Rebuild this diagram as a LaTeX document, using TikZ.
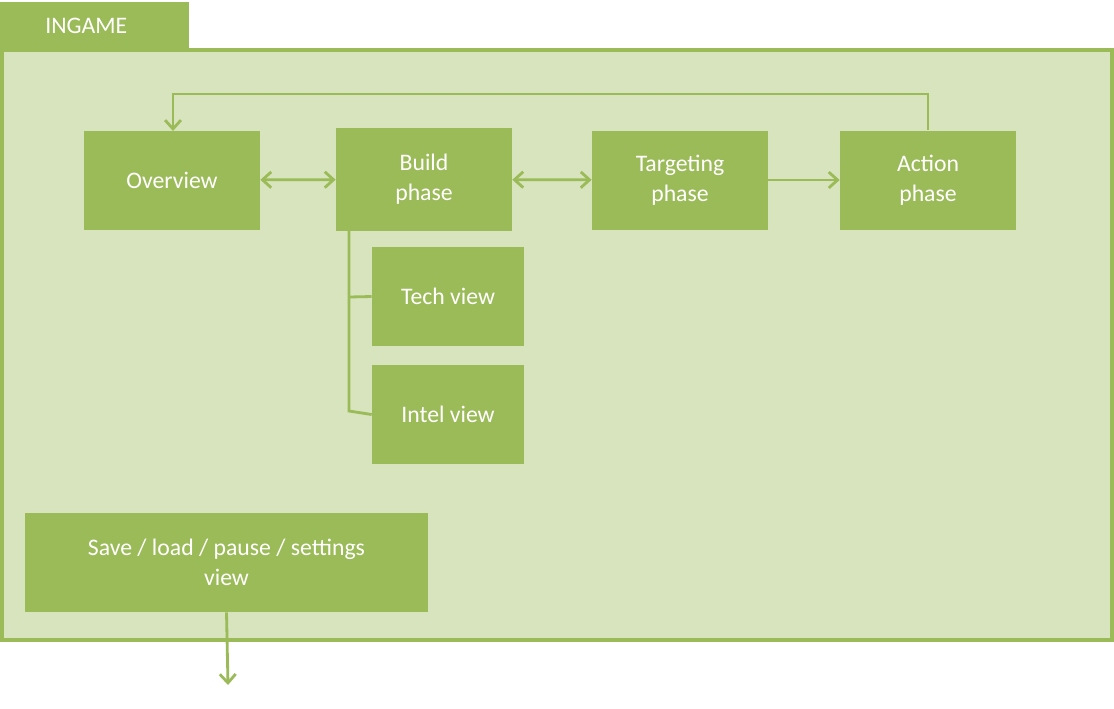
\documentclass[tikz,border=0pt]{standalone}
\usepackage{fontspec}
\setmainfont{Carlito}
\usetikzlibrary{arrows.meta}
\definecolor{boxgreen}{HTML}{9BBB59}
\definecolor{panelgreen}{HTML}{D7E4BD}
\tikzset{
  box/.style={fill=boxgreen, text=white, align=center, inner sep=0pt,
    font=\fontsize{13.5}{17}\selectfont},
  link/.style={boxgreen, line width=1.6pt},
  tip/.style={-{Straight Barb[length=5pt,width=9pt]}}
}
\begin{document}
\begin{tikzpicture}[x=0.02cm, y=-0.02cm]

    \useasboundingbox (0,0) rectangle (1114,708);

    \draw[boxgreen, fill=boxgreen] (0,2) rectangle (188,50);
    \node[box, anchor=west] (tab) at (45,26) {INGAME};
    \draw[boxgreen, fill=panelgreen, line width=2pt] (2,50) rectangle (1112,640);

    \node[box, minimum width=3.52cm, minimum height=1.98cm] (overview) at (172,180) {Overview};
    \node[box, minimum width=3.52cm, minimum height=2.06cm] (build) at (424,179.5) {Build\\phase};
    \node[box, minimum width=3.52cm, minimum height=1.98cm] (target) at (680,180) {Targeting\\phase};
    \node[box, minimum width=3.52cm, minimum height=1.98cm] (action) at (928,180) {Action\\phase};
    \node[box, minimum width=3.04cm, minimum height=1.98cm] (tech) at (448,296.5) {Tech view};
    \node[box, minimum width=3.04cm, minimum height=1.98cm] (intel) at (448,414.5) {Intel view};
    \node[box, minimum width=8.06cm, minimum height=1.98cm] (save) at (226.5,562.5) {Save / load / pause / settings\\view};
    \coordinate (exit) at (228,685);

    \draw[link, {Straight Barb[length=5pt,width=9pt]}-{Straight Barb[length=5pt,width=9pt]}] (overview) -- (build);
    \draw[link, {Straight Barb[length=5pt,width=9pt]}-{Straight Barb[length=5pt,width=9pt]}] (build) -- (target);
    \draw[link, tip] (target) -- (action);
    \draw[link, tip] (action.north) -- (928,94) -- (173,94) -- (173,131);
    \draw[link] (349,231) -- (349,411) -- (intel.west);
    \draw[link] (349,297) -- (tech.west);
    \draw[link, tip] (save.south) -- (exit);

\end{tikzpicture}
\end{document}
